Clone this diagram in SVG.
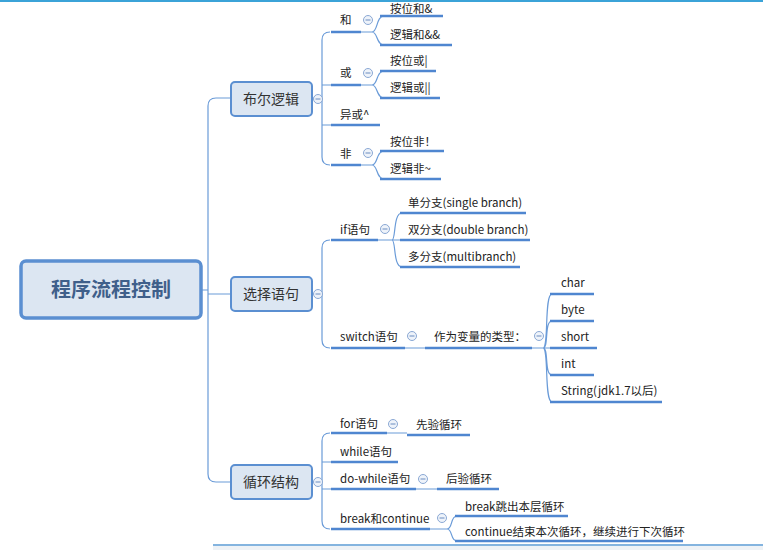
<svg xmlns="http://www.w3.org/2000/svg" width="763" height="550" viewBox="0 0 763 550">
<style>
text{font-family:"Noto Sans CJK SC","Liberation Sans",sans-serif;font-size:11.5px;fill:#222}
.c{fill:none;stroke:#6a9bd8;stroke-width:1.2}
.u{stroke:#4f86d0;stroke-width:2.5}
.n{fill:#dce6f2;stroke:#5b8fd1;stroke-width:2}
.nt{font-size:14px;fill:#333;text-anchor:middle}
.t{fill:#eef3fa;stroke:#8aa8d4;stroke-width:1}
</style>
<defs><g id="tg"><circle r="4.5" class="t"/><line x1="-2.5" x2="2.5" stroke="#6a8cc0" stroke-width="1"/></g></defs>
<rect width="763" height="550" fill="#fff"/>
<line x1="0" y1="1" x2="763" y2="1" stroke="#3ba3d8" stroke-width="2"/>
<line x1="213" y1="545" x2="763" y2="545" stroke="#5b9bd5" stroke-width="1.5"/>
<rect x="213" y="546" width="550" height="4" fill="#eef2f6"/>
<g id="connectors">
<path class="c" d="M201,290 H208 M208,290 V106 Q208,98 216,98 H231 M208,290 V474 Q208,482 216,482 H231 M208,294 H231"/>
<path class="c" d="M322,98 H312 M322,98 V40 Q322,32 330,32 M322,98 V157 Q322,165 330,165 M322,85 H331 M322,125 H331"/>
<path class="c" d="M361,32 H372 C378,32 376,16 384,16 M372,32 C378,32 376,45 384,45"/>
<path class="c" d="M361,85 H372 C378,85 376,71 384,71 M372,85 C378,85 376,98 384,98"/>
<path class="c" d="M361,165 H372 C378,165 376,151 384,151 M372,165 C378,165 376,179 384,179"/>
<path class="c" d="M312,294 H322 M322,294 V248 Q322,240 330,240 M322,294 V340 Q322,348 330,348"/>
<path class="c" d="M378,240 H392 M392,240 C396,240 393,213 402,213 M392,240 H402 M392,240 C396,240 393,267 402,267"/>
<path class="c" d="M405,348 H425 M532,348 H543 M543,348 C549,348 544,294 552,294 M543,348 C549,348 544,321 552,321 M543,348 H552 M543,348 C549,348 544,375 552,375 M543,348 C549,348 544,402 552,402"/>
<path class="c" d="M312,482 H322 M322,482 V441 Q322,433 330,433 M322,482 V521 Q322,529 330,529 M322,462 H331 M322,489 H331"/>
<path class="c" d="M387,433 H407 M416,489 H437 M430,529 H447 M447,529 C453,529 450,516 457,516 M447,529 C453,529 450,541 457,541"/>
</g>
<g id="root"><rect x="21" y="261" width="180" height="57" rx="5" fill="#dce6f2" stroke="#5b8fd1" stroke-width="3.5"/>
<text x="111" y="297" class="nt" style="font-size:20px;font-weight:bold;fill:#3f5f8a">程序流程控制</text></g>
<g id="bool"><rect class="n" x="231" y="82" width="81" height="34" rx="4"/><text class="nt" x="271" y="104">布尔逻辑</text><use href="#tg" x="318" y="99"/></g>
<g id="sel"><rect class="n" x="231" y="277" width="81" height="34" rx="4"/><text class="nt" x="271" y="299">选择语句</text><use href="#tg" x="318" y="294"/></g>
<g id="loop"><rect class="n" x="231" y="465" width="81" height="34" rx="4"/><text class="nt" x="271" y="487">循环结构</text><use href="#tg" x="318" y="482"/></g>
<g id="and"><text x="340" y="24">和</text><line class="u" x1="331" y1="32" x2="361" y2="32"/><use href="#tg" x="368" y="20"/></g>
<g id="and1"><text x="390" y="12.5">按位和&amp;</text><line class="u" x1="380" y1="16" x2="443" y2="16"/></g>
<g id="and2"><text x="390" y="39">逻辑和&amp;&amp;</text><line class="u" x1="380" y1="45" x2="452" y2="45"/></g>
<g id="or"><text x="340" y="77">或</text><line class="u" x1="331" y1="85" x2="361" y2="85"/><use href="#tg" x="368" y="73"/></g>
<g id="or1"><text x="390" y="65">按位或|</text><line class="u" x1="380" y1="71" x2="436" y2="71"/></g>
<g id="or2"><text x="390" y="92">逻辑或||</text><line class="u" x1="380" y1="98" x2="440" y2="98"/></g>
<g id="xor"><text x="340" y="119">异或^</text><line class="u" x1="331" y1="125" x2="380" y2="125"/></g>
<g id="not"><text x="340" y="158">非</text><line class="u" x1="331" y1="165" x2="361" y2="165"/><use href="#tg" x="368" y="153"/></g>
<g id="not1"><text x="390" y="146">按位非！</text><line class="u" x1="380" y1="151" x2="444" y2="151"/></g>
<g id="not2"><text x="390" y="173">逻辑非~</text><line class="u" x1="380" y1="179" x2="441" y2="179"/></g>
<g id="if"><text x="340" y="234">if语句</text><line class="u" x1="331" y1="240" x2="378" y2="240"/><use href="#tg" x="385" y="229"/></g>
<g id="if1"><text x="408" y="207">单分支(single branch)</text><line class="u" x1="400" y1="213" x2="526" y2="213"/></g>
<g id="if2"><text x="408" y="234">双分支(double branch)</text><line class="u" x1="400" y1="240" x2="530" y2="240"/></g>
<g id="if3"><text x="408" y="261">多分支(multibranch)</text><line class="u" x1="400" y1="267" x2="520" y2="267"/></g>
<g id="sw"><text x="340" y="341">switch语句</text><line class="u" x1="331" y1="348" x2="405" y2="348"/><use href="#tg" x="412" y="336"/></g>
<g id="type"><text x="434" y="341">作为变量的类型：</text><line class="u" x1="425" y1="348" x2="532" y2="348"/><use href="#tg" x="539" y="336"/></g>
<g id="t1"><text x="561" y="287">char</text><line class="u" x1="550" y1="294" x2="594" y2="294"/></g>
<g id="t2"><text x="561" y="314">byte</text><line class="u" x1="550" y1="321" x2="594" y2="321"/></g>
<g id="t3"><text x="561" y="341">short</text><line class="u" x1="550" y1="348" x2="597" y2="348"/></g>
<g id="t4"><text x="561" y="368">int</text><line class="u" x1="550" y1="375" x2="594" y2="375"/></g>
<g id="t5"><text x="561" y="395">String(jdk1.7以后)</text><line class="u" x1="550" y1="402" x2="662" y2="402"/></g>
<g id="for"><text x="340" y="428">for语句</text><line class="u" x1="331" y1="433" x2="387" y2="433"/><use href="#tg" x="393" y="424"/></g>
<g id="for1"><text x="416" y="429">先验循环</text><line class="u" x1="407" y1="435" x2="470" y2="435"/></g>
<g id="while"><text x="340" y="456">while语句</text><line class="u" x1="331" y1="462" x2="398" y2="462"/></g>
<g id="dow"><text x="340" y="483">do-while语句</text><line class="u" x1="331" y1="489" x2="416" y2="489"/><use href="#tg" x="423" y="479"/></g>
<g id="dow1"><text x="446" y="483">后验循环</text><line class="u" x1="437" y1="489" x2="499" y2="489"/></g>
<g id="bc"><text x="340" y="523">break和continue</text><line class="u" x1="331" y1="529" x2="430" y2="529"/><use href="#tg" x="442" y="518"/></g>
<g id="bc1"><text x="465" y="511">break跳出本层循环</text><line class="u" x1="455" y1="516" x2="568" y2="516"/></g>
<g id="bc2"><text x="465" y="536">continue结束本次循环，继续进行下次循环</text><line class="u" x1="455" y1="541" x2="683" y2="541"/></g>
</svg>
